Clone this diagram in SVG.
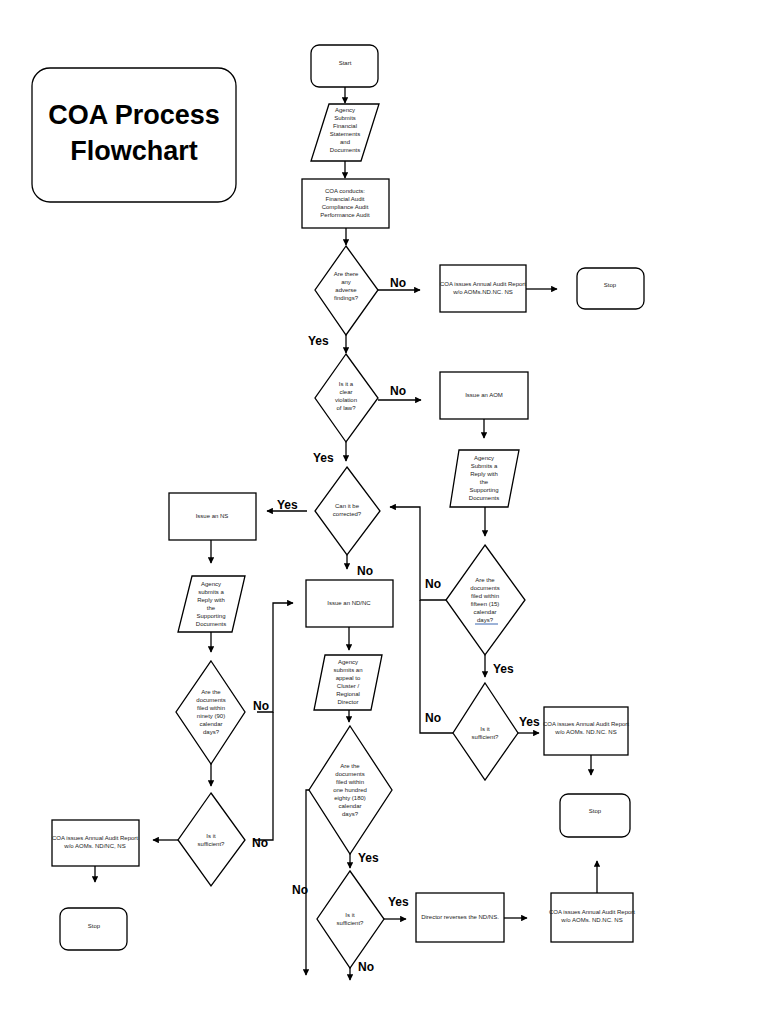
<svg xmlns="http://www.w3.org/2000/svg" width="768" height="1024" viewBox="0 0 768 1024">
<style>
.s{fill:#fff;stroke:#000;stroke-width:1.3}
.t{font-family:"Liberation Sans",Arial,sans-serif;font-size:6px;text-anchor:middle;fill:#222}
.l{font-family:"Liberation Sans",Arial,sans-serif;font-size:12px;font-weight:bold;fill:#000}
.c{fill:none;stroke:#000;stroke-width:1.3}
.a{marker-end:url(#ah)}
</style>
<defs><marker id="ah" viewBox="0 0 10 10" refX="9" refY="5" markerWidth="5" markerHeight="5" orient="auto"><path d="M0,0L10,5L0,10z" fill="#000"/></marker></defs>
<rect width="768" height="1024" fill="#fff"/>
<g id="title"><rect class="s" x="32" y="68" width="204" height="134" rx="18"/>
<text x="134" y="124" style="font-family:'Liberation Sans',Arial,sans-serif;font-size:27px;font-weight:bold;text-anchor:middle">COA Process</text>
<text x="134" y="160" style="font-family:'Liberation Sans',Arial,sans-serif;font-size:27px;font-weight:bold;text-anchor:middle">Flowchart</text></g>
<g id="start"><rect class="s" x="311" y="45" width="67" height="42" rx="8"/><text class="t" x="345" y="65">Start</text></g>
<g id="submitFS"><polygon class="s" points="329,104 379,104 361,161 311,161"/><text class="t" x="345" y="112">Agency<tspan x="345" dy="8">Submits</tspan><tspan x="345" dy="8">Financial</tspan><tspan x="345" dy="8">Statements</tspan><tspan x="345" dy="8">and</tspan><tspan x="345" dy="8">Documents</tspan></text></g>
<g id="conducts"><rect class="s" x="302" y="179" width="87" height="49"/><text class="t" x="345" y="193">COA conducts:<tspan x="345" dy="8">Financial Audit</tspan><tspan x="345" dy="8">Compliance Audit</tspan><tspan x="345" dy="8">Performance Audit</tspan></text></g>
<g id="d1"><polygon class="s" points="346,246 378,290 346,335 315,290"/><text class="t" x="346" y="276">Are there<tspan x="346" dy="8">any</tspan><tspan x="346" dy="8">adverse</tspan><tspan x="346" dy="8">findings?</tspan></text></g>
<g id="report1"><rect class="s" x="440" y="265" width="86" height="47"/><text class="t" x="483" y="286">COA issues Annual Audit Report<tspan x="483" dy="8">w/o AOMs.ND.NC. NS</tspan></text></g>
<g id="stop1"><rect class="s" x="577" y="268" width="67" height="41" rx="8"/><text class="t" x="610" y="287">Stop</text></g>
<g id="d2"><polygon class="s" points="346,354 378,398 346,442 315,398"/><text class="t" x="346" y="386">Is it a<tspan x="346" dy="8">clear</tspan><tspan x="346" dy="8">violation</tspan><tspan x="346" dy="8">of law?</tspan></text></g>
<g id="aom"><rect class="s" x="440" y="372" width="88" height="47"/><text class="t" x="484" y="397">Issue an AOM</text></g>
<g id="replyAOM"><polygon class="s" points="459,450 519,450 508,507 450,507"/><text class="t" x="484" y="460">Agency<tspan x="484" dy="8">Submits a</tspan><tspan x="484" dy="8">Reply with</tspan><tspan x="484" dy="8">the</tspan><tspan x="484" dy="8">Supporting</tspan><tspan x="484" dy="8">Documents</tspan></text></g>
<g id="d15"><polygon class="s" points="485,545 525,600 485,655 446,600"/><text class="t" x="485" y="582">Are the<tspan x="485" dy="8">documents</tspan><tspan x="485" dy="8">filed within</tspan><tspan x="485" dy="8">fifteen (15)</tspan><tspan x="485" dy="8">calendar</tspan><tspan x="485" dy="8">days?</tspan></text><line x1="475" y1="624" x2="498" y2="624" stroke="#3a66b0" stroke-width="1"/></g>
<g id="suff1"><polygon class="s" points="485,683 518,733 485,780 453,733"/><text class="t" x="485" y="731">Is it<tspan x="485" dy="8">sufficient?</tspan></text></g>
<g id="report2"><rect class="s" x="544" y="707" width="84" height="48"/><text class="t" x="586" y="726">COA issues Annual Audit Report<tspan x="586" dy="8">w/o AOMs. ND.NC. NS</tspan></text></g>
<g id="stop2"><rect class="s" x="560" y="794" width="70" height="43" rx="8"/><text class="t" x="595" y="813">Stop</text></g>
<g id="correct"><polygon class="s" points="347,467 380,511 347,555 315,511"/><text class="t" x="347" y="508">Can it be<tspan x="347" dy="8">corrected?</tspan></text></g>
<g id="ns"><rect class="s" x="169" y="493" width="87" height="47"/><text class="t" x="212" y="518">Issue an NS</text></g>
<g id="replyNS"><polygon class="s" points="192,576 245,576 232,632 178,632"/><text class="t" x="211" y="586">Agency<tspan x="211" dy="8">submits a</tspan><tspan x="211" dy="8">Reply with</tspan><tspan x="211" dy="8">the</tspan><tspan x="211" dy="8">Supporting</tspan><tspan x="211" dy="8">Documents</tspan></text></g>
<g id="d90"><polygon class="s" points="211,661 245,712 211,764 176,712"/><text class="t" x="211" y="694">Are the<tspan x="211" dy="8">documents</tspan><tspan x="211" dy="8">filed within</tspan><tspan x="211" dy="8">ninety (90)</tspan><tspan x="211" dy="8">calendar</tspan><tspan x="211" dy="8">days?</tspan></text></g>
<g id="suffNS"><polygon class="s" points="211,793 245,840 211,886 178,840"/><text class="t" x="211" y="838">Is it<tspan x="211" dy="8">sufficient?</tspan></text></g>
<g id="report3"><rect class="s" x="52" y="820" width="87" height="46"/><text class="t" x="95" y="840">COA issues Annual Audit Report<tspan x="95" dy="8">w/o AOMs. ND/NC, NS</tspan></text></g>
<g id="stop3"><rect class="s" x="60" y="908" width="67" height="42" rx="8"/><text class="t" x="94" y="928">Stop</text></g>
<g id="ndnc"><rect class="s" x="306" y="580" width="87" height="47"/><text class="t" x="349" y="605">Issue an ND/NC</text></g>
<g id="appeal"><polygon class="s" points="325,655 382,655 371,710 314,710"/><text class="t" x="348" y="664">Agency<tspan x="348" dy="8">submits an</tspan><tspan x="348" dy="8">appeal to</tspan><tspan x="348" dy="8">Cluster /</tspan><tspan x="348" dy="8">Regional</tspan><tspan x="348" dy="8">Director</tspan></text></g>
<g id="d180"><polygon class="s" points="350,726 392,790 350,854 309,790"/><text class="t" x="350" y="768">Are the<tspan x="350" dy="8">documents</tspan><tspan x="350" dy="8">filed within</tspan><tspan x="350" dy="8">one hundred</tspan><tspan x="350" dy="8">eighty (180)</tspan><tspan x="350" dy="8">calendar</tspan><tspan x="350" dy="8">days?</tspan></text></g>
<g id="suffDir"><polygon class="s" points="350,871 384,919 350,968 317,919"/><text class="t" x="350" y="917">Is it<tspan x="350" dy="8">sufficient?</tspan></text></g>
<g id="reverse"><rect class="s" x="416" y="893" width="88" height="49"/><text class="t" x="460" y="919">Director reverses the ND/NS.</text></g>
<g id="report4"><rect class="s" x="551" y="893" width="82" height="49"/><text class="t" x="592" y="914">COA issues Annual Audit Report<tspan x="592" dy="8">w/o AOMs. ND.NC. NS</tspan></text></g>
<g id="connectors">
<line class="c a" x1="345" y1="87" x2="345" y2="103"/>
<line class="c a" x1="345" y1="161" x2="345" y2="178"/>
<line class="c a" x1="346" y1="228" x2="346" y2="245"/>
<line class="c a" x1="378" y1="290" x2="420" y2="290"/>
<line class="c a" x1="526" y1="289" x2="557" y2="289"/>
<line class="c a" x1="346" y1="335" x2="346" y2="353"/>
<line class="c a" x1="378" y1="400" x2="421" y2="400"/>
<line class="c a" x1="484" y1="419" x2="484" y2="438"/>
<line class="c a" x1="485" y1="507" x2="485" y2="536"/>
<line class="c a" x1="346" y1="442" x2="346" y2="461"/>
<line class="c a" x1="307" y1="511" x2="267" y2="511"/>
<line class="c a" x1="347" y1="555" x2="347" y2="569"/>
<polyline class="c a" points="446,600 420,600 420,507 390,507"/>
<polyline class="c" points="453,733 420,733 420,600"/>
<line class="c a" x1="485" y1="655" x2="485" y2="677"/>
<line class="c a" x1="518" y1="733" x2="539" y2="733"/>
<line class="c a" x1="591" y1="755" x2="591" y2="775"/>
<line class="c a" x1="211" y1="540" x2="211" y2="563"/>
<line class="c a" x1="211" y1="632" x2="211" y2="652"/>
<line class="c a" x1="211" y1="764" x2="211" y2="786"/>
<polyline class="c a" points="257,712 273,712 273,603 293,603"/>
<polyline class="c" points="253,840 273,840 273,712"/>
<line class="c a" x1="178" y1="840" x2="153" y2="840"/>
<line class="c a" x1="95" y1="866" x2="95" y2="882"/>
<line class="c a" x1="349" y1="627" x2="349" y2="650"/>
<line class="c a" x1="349" y1="710" x2="349" y2="722"/>
<line class="c a" x1="350" y1="854" x2="350" y2="868"/>
<polyline class="c a" points="309,790 306,790 306,975"/>
<line class="c a" x1="384" y1="919" x2="406" y2="919"/>
<line class="c a" x1="504" y1="918" x2="527" y2="918"/>
<line class="c a" x1="597" y1="893" x2="597" y2="861"/>
<line class="c a" x1="350" y1="968" x2="350" y2="980"/>
</g>
<g id="labels">
<text class="l" x="390" y="287">No</text>
<text class="l" x="308" y="345">Yes</text>
<text class="l" x="390" y="395">No</text>
<text class="l" x="313" y="462">Yes</text>
<text class="l" x="277" y="509">Yes</text>
<text class="l" x="357" y="575">No</text>
<text class="l" x="425" y="588">No</text>
<text class="l" x="493" y="673">Yes</text>
<text class="l" x="425" y="722">No</text>
<text class="l" x="519" y="726">Yes</text>
<text class="l" x="253" y="710">No</text>
<text class="l" x="252" y="847">No</text>
<text class="l" x="358" y="862">Yes</text>
<text class="l" x="292" y="894">No</text>
<text class="l" x="388" y="906">Yes</text>
<text class="l" x="358" y="971">No</text>
</g>
</svg>
